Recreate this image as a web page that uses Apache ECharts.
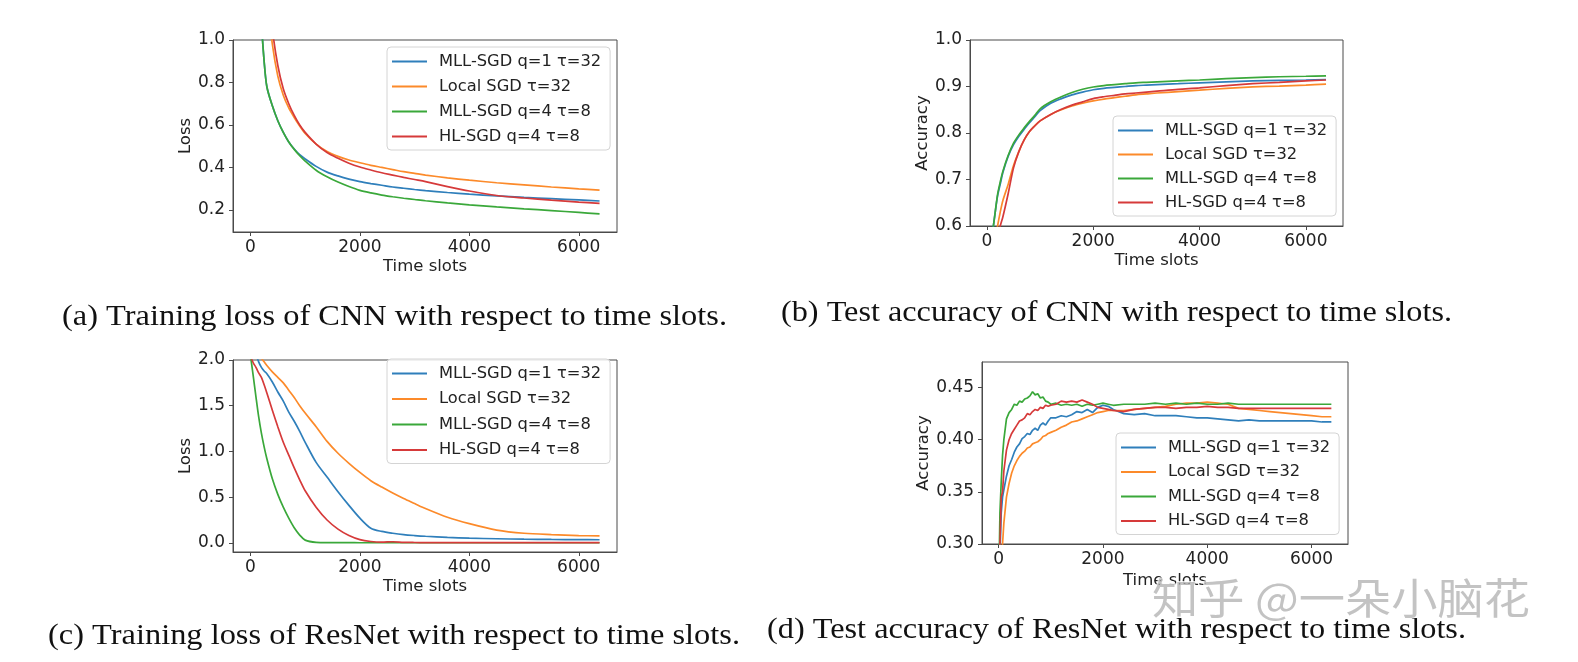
<!DOCTYPE html>
<html>
<head>
<meta charset="utf-8">
<script src="https://cdn.jsdelivr.net/npm/echarts@6/dist/echarts.min.js"></script>
<style>
html,body{margin:0;padding:0;background:#fff;}
#chart{width:1578px;height:662px;}
</style>
</head>
<body>
<div id="chart"></div>
<script>
// ---------------- DATA ----------------
const seriesNames = ['MLL-SGD q=1 \u03c4=32', 'Local SGD \u03c4=32', 'MLL-SGD q=4 \u03c4=8', 'HL-SGD q=4 \u03c4=8'];
const seriesColors = ['#2f7fbb', '#fc8a2a', '#3aa83a', '#d63a3a'];
const xTicks = [0, 2000, 4000, 6000];

// shared time grid for panels (a), (b), (c)
const timeSmooth = [0, 50, 100, 150, 200, 250, 300, 400, 500, 600, 700, 800, 900, 1000,
  1200, 1400, 1600, 1800, 2000, 2200, 2400, 2600, 2800, 3000, 3200, 3600, 4000, 4500, 5000, 5500, 6000, 6380];

// (a) Training loss of CNN
const lossCnnMll1 = [2.3, 1.9, 1.6, 1.3, 1.08, 0.9, 0.78, 0.69, 0.62, 0.565, 0.52, 0.487, 0.46, 0.44,
  0.405, 0.378, 0.36, 0.345, 0.333, 0.324, 0.316, 0.308, 0.302, 0.296, 0.291, 0.282, 0.274, 0.266, 0.259, 0.253, 0.247, 0.242];
const lossCnnLocal = [2.3, 2.2, 2.0, 1.8, 1.6, 1.4, 1.22, 0.98, 0.83, 0.74, 0.68, 0.635, 0.595, 0.56,
  0.51, 0.475, 0.452, 0.435, 0.422, 0.41, 0.4, 0.39, 0.38, 0.372, 0.364, 0.351, 0.34, 0.328, 0.318, 0.308, 0.299, 0.293];
const lossCnnMll4 = [2.3, 1.9, 1.6, 1.3, 1.08, 0.9, 0.78, 0.69, 0.62, 0.565, 0.52, 0.485, 0.455, 0.43,
  0.387, 0.356, 0.331, 0.31, 0.292, 0.28, 0.27, 0.262, 0.255, 0.249, 0.243, 0.233, 0.224, 0.214, 0.205, 0.197, 0.188, 0.181];
const lossCnnHl = [2.3, 2.25, 2.1, 1.9, 1.7, 1.5, 1.3, 1.05, 0.88, 0.77, 0.7, 0.645, 0.6, 0.565,
  0.51, 0.47, 0.443, 0.42, 0.402, 0.388, 0.375, 0.364, 0.353, 0.343, 0.333, 0.31, 0.289, 0.268, 0.256, 0.246, 0.237, 0.231];
const lossCnnYTicks = [0.2, 0.4, 0.6, 0.8, 1.0];

// (b) Test accuracy of CNN
const accCnnMll1 = [0.45, 0.52, 0.58, 0.625, 0.665, 0.69, 0.715, 0.75, 0.775, 0.793, 0.808, 0.822, 0.835, 0.848,
  0.864, 0.874, 0.882, 0.888, 0.893, 0.896, 0.898, 0.9, 0.902, 0.903, 0.904, 0.906, 0.908, 0.91, 0.912, 0.913, 0.914, 0.915];
const accCnnLocal = [0.42, 0.47, 0.52, 0.56, 0.6, 0.63, 0.655, 0.69, 0.73, 0.76, 0.785, 0.803, 0.816, 0.826,
  0.84, 0.85, 0.858, 0.864, 0.869, 0.873, 0.876, 0.879, 0.882, 0.884, 0.886, 0.889, 0.892, 0.896, 0.899, 0.901, 0.903, 0.905];
const accCnnMll4 = [0.45, 0.52, 0.58, 0.625, 0.668, 0.695, 0.718, 0.752, 0.778, 0.796, 0.811, 0.825, 0.838, 0.852,
  0.867, 0.878, 0.887, 0.894, 0.899, 0.902, 0.904, 0.906, 0.908, 0.909, 0.91, 0.912, 0.914, 0.917, 0.919, 0.921, 0.922, 0.923];
const accCnnHl = [0.4, 0.45, 0.5, 0.54, 0.575, 0.6, 0.62, 0.67, 0.725, 0.76, 0.785, 0.803, 0.815, 0.826,
  0.84, 0.851, 0.86, 0.867, 0.874, 0.878, 0.881, 0.884, 0.886, 0.888, 0.89, 0.894, 0.897, 0.902, 0.906, 0.909, 0.912, 0.914];
const accCnnYTicks = [0.6, 0.7, 0.8, 0.9, 1.0];

// (c) Training loss of ResNet
const lossResMll1 = [2.3, 2.2, 2.07, 1.98, 1.92, 1.88, 1.85, 1.76, 1.65, 1.55, 1.43, 1.33, 1.22, 1.1,
  0.88, 0.72, 0.56, 0.41, 0.27, 0.16, 0.125, 0.105, 0.09, 0.08, 0.072, 0.06, 0.051, 0.045, 0.04, 0.037, 0.035, 0.034];
const lossResLocal = [2.35, 2.25, 2.16, 2.08, 2.02, 1.98, 1.94, 1.87, 1.81, 1.75, 1.67, 1.59, 1.5, 1.42,
  1.27, 1.11, 0.98, 0.87, 0.77, 0.68, 0.61, 0.545, 0.485, 0.43, 0.375, 0.28, 0.21, 0.14, 0.105, 0.09, 0.08, 0.076];
const lossResMll4 = [2.05, 1.83, 1.6, 1.38, 1.2, 1.05, 0.92, 0.7, 0.53, 0.39, 0.27, 0.165, 0.085, 0.03,
  0.005, 0.002, 0.002, 0.002, 0.001, 0.001, 0.001, 0.001, 0.001, 0.001, 0.001, 0.001, 0.001, 0.001, 0.001, 0.001, 0.001, 0.001];
const lossResHl = [2.05, 1.97, 1.92, 1.86, 1.81, 1.73, 1.64, 1.45, 1.27, 1.1, 0.96, 0.82, 0.69, 0.57,
  0.39, 0.25, 0.15, 0.08, 0.035, 0.015, 0.008, 0.012, 0.006, 0.004, 0.003, 0.002, 0.002, 0.002, 0.002, 0.002, 0.002, 0.002];
const lossResYTicks = [0.0, 0.5, 1.0, 1.5, 2.0];

// (d) Test accuracy of ResNet
const timeResAcc = [0, 25, 50, 75, 100,
  150, 200, 250, 300, 350, 400, 450, 500, 550, 600, 650, 700, 750, 800, 850, 900, 950, 1000,
  1100, 1200, 1300, 1400, 1500, 1600, 1700, 1800, 1900, 2000, 2100, 2200,
  2400, 2600, 2800, 3000, 3200, 3400, 3600, 3800, 4000, 4200, 4400, 4600, 4800, 5000, 5200, 5400, 5600, 5800, 6000, 6200,
  6380];
const accResMll1 = [0.25, 0.29, 0.33, 0.345, 0.352,
  0.365, 0.375, 0.381, 0.388, 0.393, 0.396, 0.401, 0.403, 0.406, 0.405, 0.409, 0.411, 0.409, 0.414, 0.416, 0.414, 0.418, 0.421,
  0.421, 0.423, 0.422, 0.424, 0.427, 0.426, 0.429, 0.426, 0.431, 0.433, 0.432, 0.429,
  0.425, 0.424, 0.425, 0.423, 0.423, 0.423, 0.422, 0.421, 0.421, 0.42, 0.419, 0.418, 0.419, 0.418, 0.418, 0.418, 0.418, 0.418, 0.418, 0.417,
  0.417];
const accResLocal = [0.22, 0.25, 0.27, 0.30, 0.32,
  0.345, 0.358, 0.368, 0.375, 0.38, 0.384, 0.387, 0.389, 0.392, 0.393, 0.396, 0.397, 0.398, 0.4, 0.403, 0.404, 0.406, 0.407,
  0.409, 0.412, 0.414, 0.417, 0.418, 0.42, 0.422, 0.424, 0.426, 0.427, 0.428, 0.428,
  0.428, 0.429, 0.43, 0.431, 0.432, 0.434, 0.435, 0.435, 0.436, 0.435, 0.434, 0.43, 0.429, 0.428, 0.427, 0.426, 0.425, 0.424, 0.423, 0.422,
  0.422];
const accResMll4 = [0.25, 0.33, 0.36, 0.385, 0.40,
  0.42, 0.426, 0.429, 0.434, 0.433, 0.437, 0.436, 0.439, 0.44, 0.442, 0.446, 0.443, 0.444, 0.44, 0.441, 0.437, 0.436, 0.434,
  0.435, 0.433, 0.434, 0.433, 0.434, 0.432, 0.434, 0.433, 0.434, 0.435, 0.434, 0.433,
  0.434, 0.434, 0.434, 0.435, 0.434, 0.435, 0.434, 0.435, 0.434, 0.434, 0.435, 0.434, 0.434, 0.434, 0.434, 0.434, 0.434, 0.434, 0.434, 0.434,
  0.434];
const accResHl = [0.25, 0.30, 0.345, 0.35, 0.37,
  0.39, 0.40, 0.406, 0.41, 0.414, 0.418, 0.419, 0.421, 0.425, 0.424, 0.427, 0.429, 0.428, 0.431, 0.43, 0.433, 0.432, 0.433,
  0.434, 0.437, 0.436, 0.437, 0.436, 0.438, 0.436, 0.434, 0.431, 0.43, 0.429, 0.428,
  0.427, 0.429, 0.43, 0.431, 0.431, 0.43, 0.431, 0.431, 0.432, 0.431, 0.431, 0.43, 0.43, 0.43, 0.43, 0.43, 0.43, 0.43, 0.43, 0.43,
  0.43];
const accResYTicks = [0.30, 0.35, 0.40, 0.45];

const captions = [
  '(a) Training loss of CNN with respect to time slots.',
  '(b) Test accuracy of CNN with respect to time slots.',
  '(c) Training loss of ResNet with respect to time slots.',
  '(d) Test accuracy of ResNet with respect to time slots.'
];
const watermark = '\u77e5\u4e4e @\u4e00\u6735\u5c0f\u8111\u82b1';

// ---------------- LAYOUT ----------------
const panels = [
  { grid: { left: 233, top: 40, width: 384, height: 192 }, yMin: 0.096, yMax: 1.0, yTicks: lossCnnYTicks, dec: 1, yName: 'Loss', yGap: 32, xGap: 26,
    legend: { left: 387, top: 47, gap: 6 }, time: timeSmooth, vals: [lossCnnMll1, lossCnnLocal, lossCnnMll4, lossCnnHl] },
  { grid: { left: 970, top: 40, width: 373, height: 186 }, yMin: 0.6, yMax: 1.0, yTicks: accCnnYTicks, dec: 1, yName: 'Accuracy', yGap: 35, xGap: 26,
    legend: { left: 1113, top: 116, gap: 5 }, time: timeSmooth, vals: [accCnnMll1, accCnnLocal, accCnnMll4, accCnnHl] },
  { grid: { left: 233, top: 360, width: 384, height: 192 }, yMin: -0.1, yMax: 2.0, yTicks: lossResYTicks, dec: 1, yName: 'Loss', yGap: 32, xGap: 26,
    legend: { left: 387, top: 359, gap: 6.5 }, time: timeSmooth, vals: [lossResMll1, lossResLocal, lossResMll4, lossResHl] },
  { grid: { left: 982, top: 362, width: 366, height: 182 }, yMin: 0.30, yMax: 0.4745, yTicks: accResYTicks, dec: 2, yName: 'Accuracy', yGap: 48, xGap: 28,
    legend: { left: 1116, top: 433, gap: 5.5 }, time: timeResAcc, vals: [accResMll1, accResLocal, accResMll4, accResHl], raw: true }
];
const xMin = -319, xMax = 6699;
const axisColor = '#4a4a4a';
const textColor = '#222';
const tickFont = 'DejaVu Sans';

const grids = [], xAxes = [], yAxes = [], legends = [], series = [];
panels.forEach((p, i) => {
  grids.push(Object.assign({ show: true, borderColor: axisColor, borderWidth: 1, backgroundColor: '#fff', containLabel: false, outerBoundsMode: 'none' }, p.grid));
  xAxes.push({
    type: 'value', gridIndex: i, min: xMin, max: xMax,
    name: 'Time slots', nameLocation: 'middle', nameGap: p.xGap,
    nameTextStyle: { fontFamily: tickFont, fontSize: 16.5, color: textColor },
    axisLine: { show: true, onZero: false, lineStyle: { color: axisColor, width: 1 } },
    axisTick: { show: true, inside: false, length: 4, lineStyle: { color: axisColor }, customValues: xTicks },
    axisLabel: { show: true, margin: 7, fontFamily: tickFont, fontSize: 17, color: textColor, customValues: xTicks,
      formatter: v => String(Math.round(v)) },
    splitLine: { show: false }
  });
  yAxes.push({
    type: 'value', gridIndex: i, min: p.yMin, max: p.yMax,
    name: p.yName, nameLocation: 'middle', nameGap: p.yGap,
    nameTextStyle: { fontFamily: tickFont, fontSize: 16.5, color: textColor },
    axisLine: { show: true, onZero: false, lineStyle: { color: axisColor, width: 1 } },
    axisTick: { show: true, inside: false, length: 4, lineStyle: { color: axisColor }, customValues: p.yTicks },
    axisLabel: { show: true, margin: 8, fontFamily: tickFont, fontSize: 17, color: textColor, customValues: p.yTicks,
      formatter: v => Number(v).toFixed(p.dec) },
    splitLine: { show: false }
  });
  legends.push({
    orient: 'vertical', left: p.legend.left, top: p.legend.top,
    data: seriesNames, icon: 'rect', itemWidth: 35, itemHeight: 2, itemGap: p.legend.gap,
    padding: [5, 9, 4, 5],
    backgroundColor: 'rgba(255,255,255,0.85)', borderColor: '#d4d4d4', borderWidth: 1, borderRadius: 4,
    selectedMode: false,
    textStyle: { fontFamily: tickFont, fontSize: 16.3, color: textColor, lineHeight: 19, padding: [0, 0, 0, 7] }
  });
  p.vals.forEach((vals, k) => {
    series.push({
      name: seriesNames[k], type: 'line', xAxisIndex: i, yAxisIndex: i,
      data: p.time.map((t, j) => [t, vals[j]]),
      showSymbol: false, symbol: 'none', smooth: p.raw ? false : 0.3, clip: true,
      lineStyle: { color: seriesColors[k], width: 1.7 }, itemStyle: { color: seriesColors[k] },
      animation: false, z: 2 + k
    });
  });
});

// captions, scaled horizontally to the reference width
const measureCtx = document.createElement('canvas').getContext('2d');
function fitScale(text, font, target) { measureCtx.font = font; return target / measureCtx.measureText(text).width; }
const capFontSize = 30;
const capFamily = '"Liberation Serif", "Times New Roman", serif';
const capSpecs = [ { x: 62, y: 317, w: 665 }, { x: 781, y: 313, w: 671 }, { x: 48, y: 636, w: 692 }, { x: 767, y: 630, w: 699 } ];
const graphics = capSpecs.map((c, i) => ({
  type: 'text', x: c.x, y: c.y, scaleX: fitScale(captions[i], capFontSize + 'px ' + capFamily, c.w), z: 10,
  style: { text: captions[i], fontFamily: capFamily, fontSize: capFontSize, fill: '#111', align: 'left', verticalAlign: 'middle' }
}));
const wmFamily = '"Noto Sans CJK SC", sans-serif';
graphics.push({
  type: 'text', x: 1152, y: 598, z: 20,
  scaleX: fitScale(watermark, '42px ' + wmFamily, 378),
  style: { text: watermark, fontFamily: wmFamily, fontSize: 42, fill: 'rgba(175,175,175,0.75)', stroke: 'rgba(255,255,255,0.8)', lineWidth: 2, align: 'left', verticalAlign: 'middle' }
});

const chart = echarts.init(document.getElementById('chart'), null, { renderer: 'canvas' });
chart.setOption({
  animation: false,
  backgroundColor: '#fff',
  grid: grids, xAxis: xAxes, yAxis: yAxes, legend: legends, series: series,
  graphic: graphics
});
</script>
</body>
</html>
